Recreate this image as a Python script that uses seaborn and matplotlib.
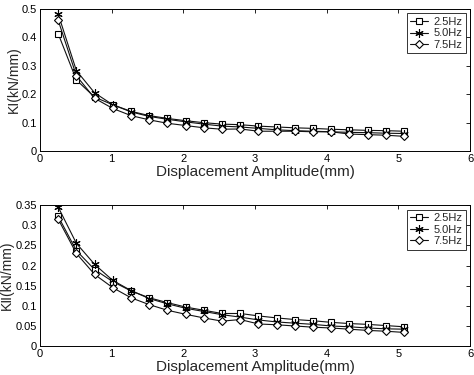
import matplotlib
matplotlib.use("Agg")
import matplotlib.pyplot as plt
import seaborn as sns
import numpy as np
import pandas as pd

sns.set_theme(style="white")
plt.rcParams['font.family'] = ['Liberation Sans', 'DejaVu Sans', 'Noto Sans CJK SC']

amplitude = [0.254, 0.508, 0.762, 1.016, 1.27, 1.524, 1.778, 2.032, 2.286, 2.54,
             2.794, 3.048, 3.302, 3.556, 3.81, 4.064, 4.318, 4.572, 4.826, 5.08]
freqs = ["2.5Hz", "5.0Hz", "7.5Hz"]

k1_25 = [0.413, 0.25, 0.19, 0.163, 0.14, 0.125, 0.115, 0.107, 0.1, 0.095,
         0.093, 0.088, 0.085, 0.082, 0.08, 0.077, 0.075, 0.073, 0.072, 0.07]
k1_50 = [0.482, 0.283, 0.205, 0.163, 0.138, 0.122, 0.112, 0.103, 0.095, 0.088,
         0.085, 0.08, 0.075, 0.072, 0.07, 0.068, 0.066, 0.065, 0.063, 0.062]
k1_75 = [0.46, 0.265, 0.186, 0.15, 0.125, 0.11, 0.098, 0.09, 0.082, 0.077,
         0.078, 0.07, 0.07, 0.07, 0.068, 0.068, 0.06, 0.058, 0.056, 0.052]

k2_25 = [0.322, 0.237, 0.19, 0.16, 0.137, 0.12, 0.108, 0.097, 0.089, 0.081,
         0.081, 0.075, 0.07, 0.066, 0.063, 0.059, 0.056, 0.054, 0.051, 0.048]
k2_50 = [0.345, 0.255, 0.203, 0.163, 0.138, 0.118, 0.105, 0.094, 0.086, 0.078,
         0.072, 0.065, 0.06, 0.057, 0.054, 0.05, 0.048, 0.045, 0.043, 0.042]
k2_75 = [0.315, 0.23, 0.178, 0.145, 0.12, 0.103, 0.089, 0.079, 0.07, 0.062,
         0.066, 0.055, 0.053, 0.05, 0.047, 0.045, 0.042, 0.039, 0.037, 0.034]

markers = {"2.5Hz": "s", "5.0Hz": (6, 2, 0), "7.5Hz": "D"}
msize = {"2.5Hz": 5, "5.0Hz": 6, "7.5Hz": 4.5}

fig = plt.figure(figsize=(4.74, 3.75), dpi=100)
ax1 = fig.add_axes([0.0844, 0.597, 0.9072, 0.379])
ax2 = fig.add_axes([0.0844, 0.077, 0.9072, 0.376])

def draw(ax, series, ylabel, ylim, yticks, yticklabels):
    for f, vals in zip(freqs, series):
        df = pd.DataFrame({"x": amplitude, "y": vals})
        m = markers[f]
        sns.lineplot(data=df, x="x", y="y", ax=ax, color="#111111", lw=0.8,
                     marker=m, markersize=msize[f],
                     markerfacecolor="white",
                     markeredgecolor="black", markeredgewidth=0.8, label=f)
    ax.set_xlim(0, 6)
    ax.set_ylim(*ylim)
    ax.set_xticks([0, 1, 2, 3, 4, 5, 6])
    ax.set_yticks(yticks)
    ax.set_yticklabels(yticklabels)
    ax.tick_params(direction="in", top=True, right=True, length=3, width=0.6,
                   labelsize=8, colors="black", pad=2)
    for s in ax.spines.values():
        s.set_color("black")
        s.set_linewidth(0.7)
    ax.set_xlabel("Displacement Amplitude(mm)", fontsize=11, labelpad=1)
    ax.set_ylabel(ylabel, fontsize=10, labelpad=1)
    leg = ax.legend(loc="upper right", fontsize=8, frameon=True, fancybox=False,
                    edgecolor="black", handlelength=1.6, handletextpad=0.5,
                    borderpad=0.3, labelspacing=0.15, borderaxespad=0.4)
    leg.get_frame().set_linewidth(0.7)

draw(ax1, [k1_25, k1_50, k1_75], "KⅠ(kN/mm)", (0, 0.5),
     [0, 0.1, 0.2, 0.3, 0.4, 0.5], ["0", "0.1", "0.2", "0.3", "0.4", "0.5"])
draw(ax2, [k2_25, k2_50, k2_75], "KⅡ(kN/mm)", (0, 0.35),
     [0, 0.05, 0.1, 0.15, 0.2, 0.25, 0.3, 0.35],
     ["0", "0.05", "0.1", "0.15", "0.2", "0.25", "0.3", "0.35"])

fig.savefig("out.png", dpi=100)
